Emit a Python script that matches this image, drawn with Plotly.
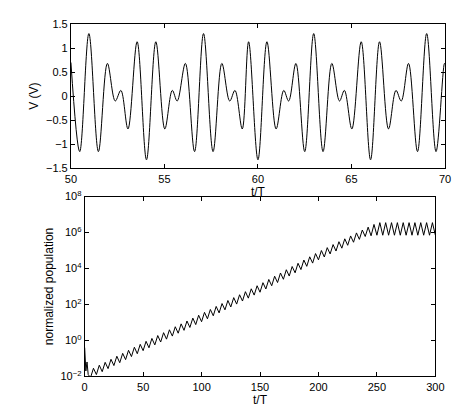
import plotly.graph_objects as go

# top panel: extrema of V(t)
t_v = [50.0, 50.47, 50.96, 51.47, 51.95, 52.37, 52.67, 53.05, 53.54, 54.04, 54.54, 55.02,
       55.42, 55.68, 56.12, 56.61, 57.09, 57.6, 58.07, 58.49, 58.77, 59.16, 59.5, 60.0,
       60.48, 60.97, 61.38, 61.64, 62.03, 62.5, 62.98, 63.48, 63.95, 64.36, 64.62, 65.02,
       65.52, 66.02, 66.5, 66.98, 67.38, 67.66, 68.05, 68.53, 69.02, 69.52, 69.97, 70.0]
v = [0.7, -1.15, 1.3, -1.15, 0.68, -0.1, 0.12, -0.68, 1.13, -1.32, 1.13, -0.68,
     0.12, -0.1, 0.68, -1.15, 1.3, -1.15, 0.68, -0.1, 0.12, -0.68, 1.13, -1.32,
     1.13, -0.68, 0.12, -0.1, 0.68, -1.15, 1.3, -1.15, 0.68, -0.1, 0.12, -0.68,
     1.13, -1.32, 1.13, -0.68, 0.12, -0.1, 0.68, -1.15, 1.3, -1.15, 0.68, 0.66]

# bottom panel: sawtooth lows (t = 5,10,...,300) and highs (t = 7.5,...), log10 values
t_start = [0, 1, 2, 3]
p_start = [-0.4, -1.7, -1.2, -1.9]
low_exp = [-2.07, -1.90, -1.74, -1.57, -1.40, -1.24, -1.07, -0.90, -0.74, -0.57,
           -0.41, -0.25, -0.09, 0.07, 0.24, 0.40, 0.56, 0.72, 0.88, 1.04,
           1.20, 1.37, 1.53, 1.70, 1.86, 2.02, 2.19, 2.35, 2.52, 2.68,
           2.86, 3.04, 3.22, 3.40, 3.58, 3.76, 3.94, 4.12, 4.30, 4.48,
           4.64, 4.81, 4.97, 5.13, 5.29, 5.46, 5.62, 5.78, 5.82, 5.85,
           5.85, 5.85, 5.85, 5.85, 5.85, 5.85, 5.85, 5.85, 5.85, 5.85]
high_exp = [-1.55, -1.38, -1.22, -1.05, -0.88, -0.72, -0.55, -0.38, -0.22, -0.05,
            0.11, 0.27, 0.43, 0.59, 0.76, 0.92, 1.08, 1.24, 1.40, 1.56,
            1.72, 1.89, 2.05, 2.22, 2.38, 2.54, 2.71, 2.87, 3.04, 3.21,
            3.39, 3.57, 3.75, 3.93, 4.11, 4.29, 4.47, 4.65, 4.83, 5.00,
            5.16, 5.33, 5.49, 5.65, 5.81, 5.98, 6.14, 6.30, 6.45, 6.55,
            6.55, 6.55, 6.55, 6.55, 6.55, 6.55, 6.55, 6.55, 6.55]

t_p = list(t_start)
p_exp = list(p_start)
for i in range(len(low_exp)):
    t_p.append(5 * (i + 1))
    p_exp.append(low_exp[i])
    if i < len(high_exp):
        t_p.append(5 * (i + 1) + 2.5)
        p_exp.append(high_exp[i])
pop = [10 ** e for e in p_exp]

fnt = dict(family="Liberation Sans", size=11, color="black")
tfnt = dict(family="Liberation Sans", size=12, color="black")

fig = go.Figure()
fig.add_trace(go.Scatter(x=t_v, y=v, mode="lines", line=dict(color="black", width=1, shape="spline", smoothing=1.0),
                         xaxis="x", yaxis="y", showlegend=False))
fig.add_trace(go.Scatter(x=t_p, y=pop, mode="lines", line=dict(color="black", width=1),
                         xaxis="x2", yaxis="y2", showlegend=False))

ax = dict(showline=True, linecolor="black", linewidth=1, mirror="ticks", ticks="inside",
          ticklen=4, tickcolor="black", showgrid=False, zeroline=False, tickfont=fnt)

fig.update_layout(
    width=474, height=410, margin=dict(l=0, r=0, t=0, b=0),
    plot_bgcolor="white", paper_bgcolor="white",
    xaxis=dict(ax, domain=[0.124, 0.939], anchor="y", range=[50, 70], tickvals=[50, 55, 60, 65, 70],
               title=dict(text="t/T", font=tfnt, standoff=2)),
    yaxis=dict(ax, domain=[0.615, 0.980], anchor="x", range=[-1.5, 1.5],
               tickvals=[-1.5, -1, -0.5, 0, 0.5, 1, 1.5], ticktext=["−1.5", "−1", "−0.5", "0", "0.5", "1", "1.5"],
               title=dict(text="V (V)", font=tfnt, standoff=4)),
    xaxis2=dict(ax, domain=[0.154, 0.918], anchor="y2", range=[0, 300], tickvals=[0, 50, 100, 150, 200, 250, 300],
                title=dict(text="t/T", font=tfnt, standoff=0)),
    yaxis2=dict(ax, domain=[0.090, 0.544], anchor="x2", type="log", range=[-2, 8],
                tickvals=[1e-2, 1, 1e2, 1e4, 1e6, 1e8],
                ticktext=["10<sup>−2</sup>", "10<sup>0</sup>", "10<sup>2</sup>", "10<sup>4</sup>", "10<sup>6</sup>", "10<sup>8</sup>"],
                title=dict(text="normalized population", font=tfnt, standoff=4)),
)

fig.write_html("out.html")
